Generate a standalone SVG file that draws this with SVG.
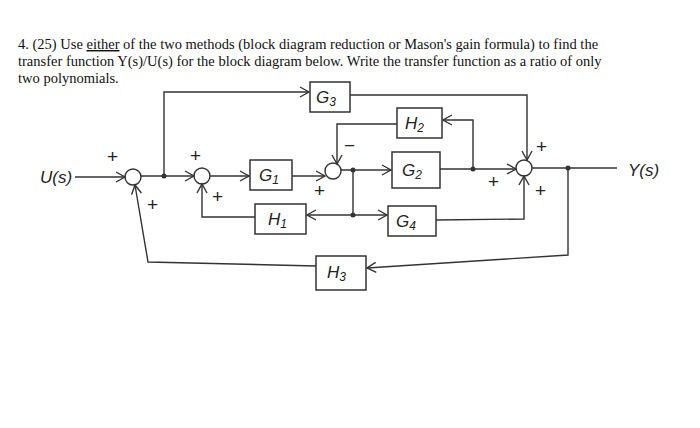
<svg xmlns="http://www.w3.org/2000/svg" width="700" height="428" viewBox="0 0 700 428">
<style>
.t{font-family:"Liberation Serif",serif;font-size:14.5px;fill:#111}
.h{font-family:"Liberation Sans",sans-serif;font-size:17px;fill:#222;font-style:italic}
.h tspan{font-size:12px}
.s{font-family:"Liberation Sans",sans-serif;font-size:19px;fill:#222}
rect{fill:none;stroke:#333;stroke-width:1.5}
.c path{fill:none;stroke:#333;stroke-width:1.4}
circle.j{fill:none;stroke:#333;stroke-width:1.4}
circle.d{fill:#333}
</style>
<defs><marker id="a" markerWidth="12" markerHeight="12" refX="10" refY="6" orient="auto" markerUnits="userSpaceOnUse"><path d="M1,1 L10,6 L1,11" fill="none" stroke="#333" stroke-width="1.4"/></marker></defs>
<rect x="0" y="0" width="700" height="428" style="fill:#fff;stroke:none"/>
<text class="t" x="18" y="49">4. (25) Use <tspan text-decoration="underline">either</tspan> of the two methods (block diagram reduction or Mason's gain formula) to find the</text>
<text class="t" x="18" y="66">transfer function Y(s)/U(s) for the block diagram below. Write the transfer function as a ratio of only</text>
<text class="t" x="18" y="83">two polynomials.</text>
<g class="c" id="connectors">
<path d="M75,177 H125" marker-end="url(#a)"/>
<path d="M141,176 H194" marker-end="url(#a)"/>
<path d="M164,176 V92 H309" marker-end="url(#a)"/>
<path d="M210,176 H249" marker-end="url(#a)"/>
<path d="M292,176 H325" marker-end="url(#a)"/>
<path d="M341,170 H391" marker-end="url(#a)"/>
<path d="M440,169 H516" marker-end="url(#a)"/>
<path d="M350,95 H527 V160" marker-end="url(#a)"/>
<path d="M397,124 H337 V164" marker-end="url(#a)"/>
<path d="M473,169 V120 H443" marker-end="url(#a)"/>
<path d="M353,170 V215"/>
<path d="M353,215 H387" marker-end="url(#a)"/>
<path d="M353,215 H307" marker-end="url(#a)"/>
<path d="M255,217 H202 V184" marker-end="url(#a)"/>
<path d="M436,220 L524,219 V176" marker-end="url(#a)"/>
<path d="M532,168 H617"/>
<path d="M568,168 V255 L367,268" marker-end="url(#a)"/>
<path d="M316,266 L148,262 L135,185" marker-end="url(#a)"/>
</g>
<g id="S1"><circle class="j" cx="133" cy="177" r="8"/><text class="s" x="107" y="163">+</text><text class="s" x="147" y="211">+</text></g>
<g id="S2"><circle class="j" cx="202" cy="176" r="8"/><text class="s" x="190" y="162">+</text><text class="s" x="212" y="203">+</text></g>
<g id="S3"><circle class="j" cx="333" cy="171" r="8"/><text class="s" x="344" y="152">−</text><text class="s" x="314" y="197">+</text></g>
<g id="S4"><circle class="j" cx="524" cy="168" r="8"/><text class="s" x="536" y="153">+</text><text class="s" x="488" y="188">+</text><text class="s" x="535" y="197">+</text></g>
<g id="dots"><circle class="d" cx="164" cy="176" r="2.5"/><circle class="d" cx="353" cy="170" r="2.5"/><circle class="d" cx="353" cy="215" r="2.5"/><circle class="d" cx="473" cy="169" r="2.5"/><circle class="d" cx="568" cy="168" r="2.5"/></g>
<g id="G3"><rect x="310" y="82" width="40" height="30"/><text class="h" x="316" y="103">G<tspan dy="3">3</tspan></text></g>
<g id="H2"><rect x="397" y="108" width="45" height="30"/><text class="h" x="405" y="129">H<tspan dy="3">2</tspan></text></g>
<g id="G1"><rect x="250" y="160" width="42" height="30"/><text class="h" x="259" y="181">G<tspan dy="3">1</tspan></text></g>
<g id="G2"><rect x="392" y="152" width="48" height="36"/><text class="h" x="402" y="176">G<tspan dy="3">2</tspan></text></g>
<g id="H1"><rect x="255" y="204" width="51" height="30"/><text class="h" x="268" y="225">H<tspan dy="3">1</tspan></text></g>
<g id="G4"><rect x="388" y="206" width="48" height="30"/><text class="h" x="396" y="227">G<tspan dy="3">4</tspan></text></g>
<g id="H3"><rect x="316" y="256" width="50" height="34"/><text class="h" x="327" y="278">H<tspan dy="3">3</tspan></text></g>
<g id="U"><text class="h" x="40" y="183">U(s)</text></g>
<g id="Y"><text class="h" x="628" y="176">Y(s)</text></g>
</svg>
